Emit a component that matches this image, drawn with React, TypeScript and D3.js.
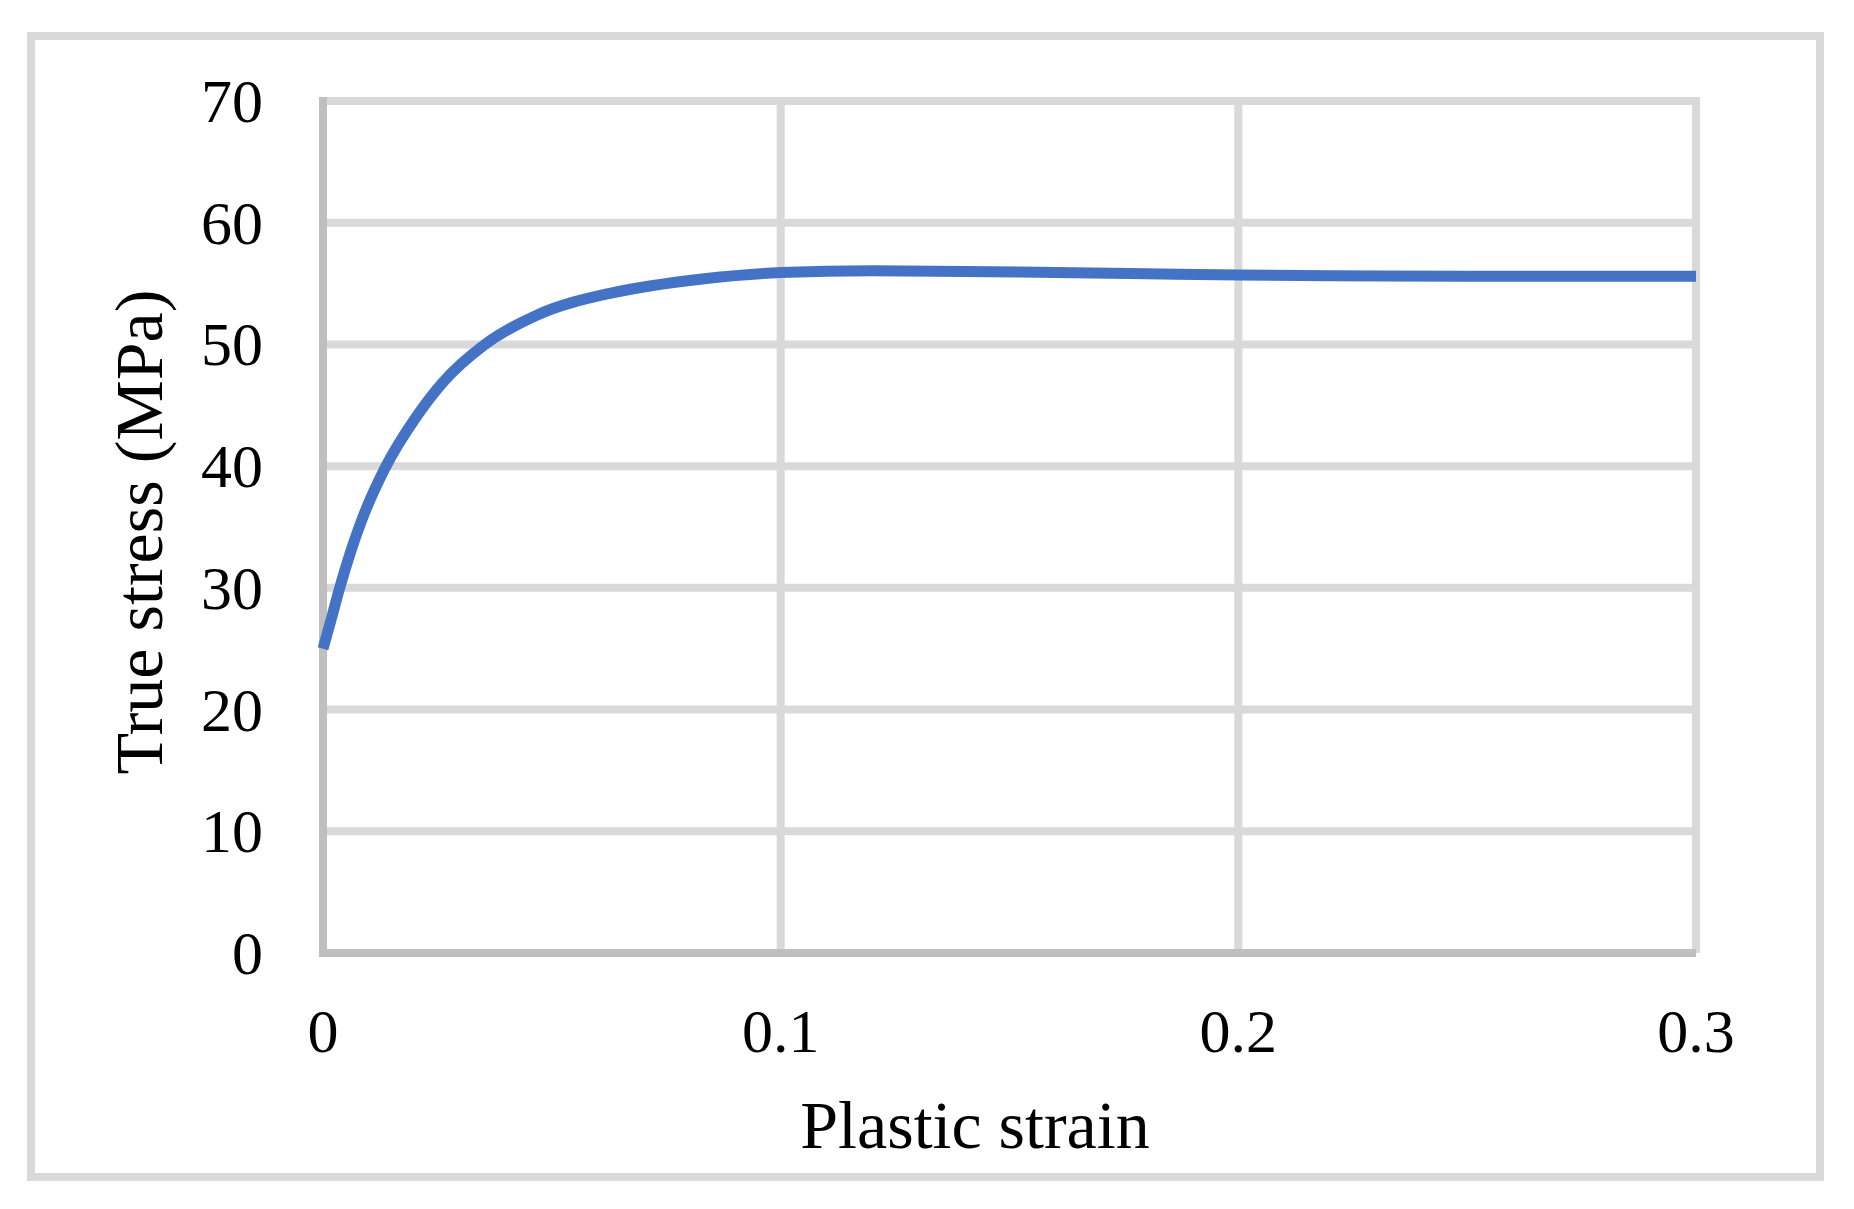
import React from "react";
import * as d3 from "d3";

const strain = [0, 0.002, 0.0035, 0.0059, 0.0083, 0.0135, 0.0203, 0.026, 0.0354, 0.0467, 0.0627, 0.0714, 0.0833, 0.1, 0.12, 0.14, 0.16, 0.18, 0.2, 0.22, 0.25, 0.3];
const stress = [25, 27.7, 29.8, 32.8, 35.4, 39.8, 44.0, 46.8, 50, 52.4, 54.2, 54.8, 55.4, 55.9, 56.05, 56.0, 55.9, 55.8, 55.7, 55.65, 55.6, 55.6];
const xTicks = [0, 0.1, 0.2, 0.3];
const xTickLabels = ["0", "0.1", "0.2", "0.3"];
const yTicks = [0, 10, 20, 30, 40, 50, 60, 70];
const xTitle = "Plastic strain";
const yTitle = "True stress (MPa)";

const W = 1854;
const H = 1209;
const left = 323, right = 1696, top = 101, bottom = 953;
const font = "'Liberation Serif', 'Times New Roman', serif";

export default function App() {
  const x = d3.scaleLinear().domain([0, 0.3]).range([left, right]);
  const y = d3.scaleLinear().domain([0, 70]).range([bottom, top]);
  const pts = strain.map((s, i) => [s, stress[i]] as [number, number]);
  const line = d3
    .line<[number, number]>()
    .x((d) => x(d[0]))
    .y((d) => y(d[1]))
    .curve(d3.curveMonotoneX);

  return (
    <svg
      width={W}
      height={H}
      viewBox={`0 0 ${W} ${H}`}
      style={{ position: "absolute", left: 0, top: 0, background: "#fff" }}
    >
      <rect x={0} y={0} width={W} height={H} fill="#fff" />
      <rect x={31} y={36} width={1820 - 31} height={1177 - 36} fill="none" stroke="#d9d9d9" strokeWidth={8} />
      {yTicks.map((t) => (
        <line key={"gy" + t} x1={left} x2={right} y1={y(t)} y2={y(t)} stroke="#d9d9d9" strokeWidth={8} />
      ))}
      {xTicks.map((t) => (
        <line key={"gx" + t} x1={x(t)} x2={x(t)} y1={top - 4} y2={bottom} stroke="#d9d9d9" strokeWidth={8} />
      ))}
      <line x1={left} x2={left} y1={top - 4} y2={bottom + 4} stroke="#bfbfbf" strokeWidth={8} />
      <line x1={left - 4} x2={right} y1={bottom} y2={bottom} stroke="#bfbfbf" strokeWidth={8} />
      <path d={line(pts) || ""} fill="none" stroke="#4472c4" strokeWidth={11} />
      {yTicks.map((t) => (
        <text key={"ty" + t} x={263} y={y(t) + 21} textAnchor="end" fontFamily={font} fontSize={62} fill="#000">
          {t}
        </text>
      ))}
      {xTicks.map((t, i) => (
        <text key={"tx" + t} x={x(t)} y={1052} textAnchor="middle" fontFamily={font} fontSize={62} fill="#000">
          {xTickLabels[i]}
        </text>
      ))}
      <text x={975} y={1148} textAnchor="middle" fontFamily={font} fontSize={68} fill="#000">
        {xTitle}
      </text>
      <text
        transform={`translate(162, 532) rotate(-90)`}
        textAnchor="middle"
        fontFamily={font}
        fontSize={68}
        fill="#000"
      >
        {yTitle}
      </text>
    </svg>
  );
}
